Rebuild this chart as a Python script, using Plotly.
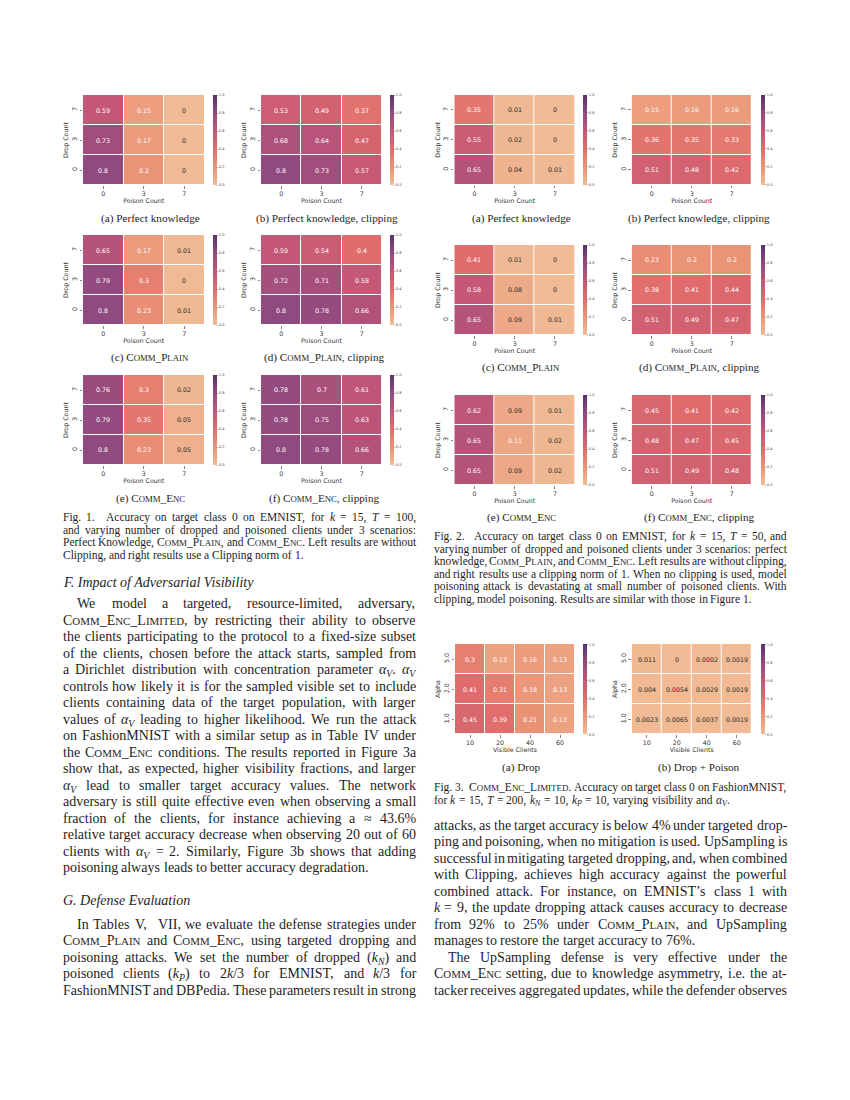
import re
import plotly.graph_objects as go

W, H = 850, 1100

# ---------------- data ----------------
poison_counts = ["0", "3", "7"]
drop_counts = ["0", "3", "7"]          # bottom -> top
visible_clients = ["10", "20", "40", "60"]
alphas = ["1.0", "2.0", "5.0"]         # bottom -> top

# rows = drop count 0,3,7 ; cols = poison count 0,3,7
fig1_perfect = [[0.8, 0.2, 0], [0.73, 0.17, 0], [0.59, 0.15, 0]]
fig1_perfect_clip = [[0.8, 0.73, 0.57], [0.68, 0.64, 0.47], [0.53, 0.49, 0.37]]
fig1_plain = [[0.8, 0.23, 0.01], [0.79, 0.3, 0], [0.65, 0.17, 0.01]]
fig1_plain_clip = [[0.8, 0.78, 0.66], [0.72, 0.71, 0.58], [0.59, 0.54, 0.4]]
fig1_enc = [[0.8, 0.23, 0.05], [0.79, 0.35, 0.05], [0.76, 0.3, 0.02]]
fig1_enc_clip = [[0.8, 0.78, 0.66], [0.78, 0.75, 0.63], [0.78, 0.7, 0.61]]

fig2_perfect = [[0.65, 0.04, 0.01], [0.55, 0.02, 0], [0.35, 0.01, 0]]
fig2_perfect_clip = [[0.51, 0.48, 0.42], [0.36, 0.35, 0.33], [0.15, 0.16, 0.16]]
fig2_plain = [[0.65, 0.09, 0.01], [0.58, 0.08, 0], [0.41, 0.01, 0]]
fig2_plain_clip = [[0.51, 0.49, 0.47], [0.38, 0.41, 0.44], [0.23, 0.2, 0.2]]
fig2_enc = [[0.65, 0.09, 0.02], [0.65, 0.11, 0.02], [0.62, 0.09, 0.01]]
fig2_enc_clip = [[0.51, 0.49, 0.48], [0.48, 0.47, 0.45], [0.45, 0.41, 0.42]]

# rows = alpha 1.0, 2.0, 5.0 ; cols = visible clients 10,20,40,60
fig3_drop = [[0.45, 0.39, 0.21, 0.13], [0.41, 0.31, 0.18, 0.13], [0.3, 0.13, 0.16, 0.13]]
fig3_drop_poison = [[0.0023, 0.0065, 0.0037, 0.0019], [0.004, 0.0054, 0.0029, 0.0019],
                    [0.011, 0, 0.0002, 0.0019]]

cbar_ticks = [0, 0.2, 0.4, 0.6, 0.8, 1.0]
cbar_labels = ["0.0", "0.2", "0.4", "0.6", "0.8", "1.0"]

# ---------------- styles ----------------
FLARE = [
    [0.0, "rgb(240,187,148)"],
    [0.2, "rgb(234,148,119)"],
    [0.4, "rgb(224,108,107)"],
    [0.6, "rgb(194,86,119)"],
    [0.8, "rgb(144,74,127)"],
    [1.0, "rgb(88,50,108)"],
]
SANS = "DejaVu Sans"
SERIF = "Liberation Serif"
TXT = "#1e1e1e"
AX_FS = 6.3

fig = go.Figure()
annotations = []
layout = dict(width=W, height=H, autosize=False, margin=dict(l=0, r=0, t=0, b=0, pad=0),
              paper_bgcolor="white", plot_bgcolor="white", showlegend=False,
              hovermode=False, font=dict(family=SANS, color=TXT))


def sc_cap(s):
    return "§" + s + "§"


panels = [
    # Fig. 1
    dict(z=fig1_perfect, x=poison_counts, y=drop_counts, box=(83, 204.5, 95, 185), cb=212.7,
         xt="Poison Count", yt="Drop Count", cap="(a) Perfect knowledge", cx=150, cy=217.7),
    dict(z=fig1_perfect_clip, x=poison_counts, y=drop_counts, box=(261, 382, 95, 185), cb=390,
         xt="Poison Count", yt="Drop Count", cap="(b) Perfect knowledge, clipping", cx=327, cy=217.7),
    dict(z=fig1_plain, x=poison_counts, y=drop_counts, box=(83, 204.5, 235, 325), cb=212.7,
         xt="Poison Count", yt="Drop Count", cap="(c) " + sc_cap("Comm_Plain"), cx=150, cy=356.7),
    dict(z=fig1_plain_clip, x=poison_counts, y=drop_counts, box=(261, 382, 235, 325), cb=390,
         xt="Poison Count", yt="Drop Count", cap="(d) " + sc_cap("Comm_Plain") + ", clipping", cx=324, cy=356.7),
    dict(z=fig1_enc, x=poison_counts, y=drop_counts, box=(83, 204.5, 375, 465), cb=212.7,
         xt="Poison Count", yt="Drop Count", cap="(e) " + sc_cap("Comm_Enc"), cx=150, cy=497.7),
    dict(z=fig1_enc_clip, x=poison_counts, y=drop_counts, box=(261, 382, 375, 465), cb=390,
         xt="Poison Count", yt="Drop Count", cap="(f) " + sc_cap("Comm_Enc") + ", clipping", cx=324, cy=497.7),
    # Fig. 2
    dict(z=fig2_perfect, x=poison_counts, y=drop_counts, box=(454.3, 575, 95, 184.5), cb=583.3,
         xt="Poison Count", yt="Drop Count", cap="(a) Perfect knowledge", cx=521, cy=217.7),
    dict(z=fig2_perfect_clip, x=poison_counts, y=drop_counts, box=(631.7, 751.7, 95, 184.5), cb=760.7,
         xt="Poison Count", yt="Drop Count", cap="(b) Perfect knowledge, clipping", cx=699, cy=217.7),
    dict(z=fig2_plain, x=poison_counts, y=drop_counts, box=(454.3, 575, 245, 335), cb=583.3,
         xt="Poison Count", yt="Drop Count", cap="(c) " + sc_cap("Comm_Plain"), cx=521, cy=366.7),
    dict(z=fig2_plain_clip, x=poison_counts, y=drop_counts, box=(631.7, 751.7, 245, 335), cb=760.7,
         xt="Poison Count", yt="Drop Count", cap="(d) " + sc_cap("Comm_Plain") + ", clipping", cx=699, cy=366.7),
    dict(z=fig2_enc, x=poison_counts, y=drop_counts, box=(454.3, 575, 395, 485), cb=583.3,
         xt="Poison Count", yt="Drop Count", cap="(e) " + sc_cap("Comm_Enc"), cx=521, cy=516.7),
    dict(z=fig2_enc_clip, x=poison_counts, y=drop_counts, box=(631.7, 751.7, 395, 485), cb=760.7,
         xt="Poison Count", yt="Drop Count", cap="(f) " + sc_cap("Comm_Enc") + ", clipping", cx=699, cy=516.7),
    # Fig. 3
    dict(z=fig3_drop, x=visible_clients, y=alphas, box=(455, 575, 644, 734.3), cb=583.3,
         xt="Visible Clients", yt="Alpha", cap="(a) Drop", cx=521, cy=767.3),
    dict(z=fig3_drop_poison, x=visible_clients, y=alphas, box=(631.7, 751.7, 644, 734.3), cb=760.7,
         xt="Visible Clients", yt="Alpha", cap="(b) Drop + Poison", cx=699, cy=767.3),
]

# ---------------- text width model (Times metrics) ----------------
REG = {}
for ch, w in zip("abcdefghijklmnopqrstuvwxyz",
                 [444, 500, 444, 500, 444, 333, 500, 500, 278, 278, 500, 278, 778, 500, 500, 500, 500, 333,
                  389, 278, 500, 500, 722, 500, 500, 444]):
    REG[ch] = w
for ch, w in zip("ABCDEFGHIJKLMNOPQRSTUVWXYZ",
                 [722, 667, 667, 722, 611, 556, 722, 722, 333, 389, 722, 611, 889, 722, 722, 556, 722, 667,
                  556, 611, 722, 722, 944, 722, 722, 611]):
    REG[ch] = w
ITA = {}
for ch, w in zip("abcdefghijklmnopqrstuvwxyz",
                 [500, 500, 444, 500, 444, 278, 500, 500, 278, 278, 444, 278, 722, 500, 500, 500, 500, 389,
                  389, 278, 500, 444, 667, 444, 444, 389]):
    ITA[ch] = w
for ch, w in zip("ABCDEFGHIJKLMNOPQRSTUVWXYZ",
                 [611, 611, 667, 722, 611, 611, 722, 722, 333, 444, 667, 556, 833, 667, 722, 611, 722, 611,
                  500, 556, 722, 611, 833, 611, 556, 556]):
    ITA[ch] = w
PUNCT = {" ": 250, ",": 250, ".": 250, ":": 278, ";": 278, "(": 333, ")": 333, "-": 333, "%": 833,
         "/": 278, "’": 333, "'": 180, "=": 564, "≈": 549, "_": 500, "+": 564, "α": 540, "\u00a0": 250}


def cw(ch, ital):
    if ch.isdigit():
        return 0.5
    if ch in PUNCT:
        return PUNCT[ch] / 1000.0
    t = ITA if ital else REG
    return t.get(ch, 500) / 1000.0


TAG = re.compile(r"(<i>|</i>|<sub>|</sub>|§)")
SC = 0.78


def render(word, fs):
    html, width = "", 0.0
    ital = sub = sc = False
    for tok in TAG.split(word):
        if tok == "":
            continue
        if tok == "<i>":
            ital = True; html += tok; continue
        if tok == "</i>":
            ital = False; html += tok; continue
        if tok == "<sub>":
            sub = True; html += tok; continue
        if tok == "</sub>":
            sub = False; html += tok; continue
        if tok == "§":
            sc = not sc; continue
        scale = 0.7 if sub else 1.0
        if sc:
            for run in re.findall(r"[a-z]+|[^a-z]+", tok):
                if "a" <= run[0] <= "z":
                    up = run.upper()
                    html += '<span style="font-size:%.2fpx">%s</span>' % (fs * SC, up)
                    width += fs * SC * sum(cw(c, ital) for c in up)
                else:
                    html += run
                    width += fs * sum(cw(c, ital) for c in run)
        else:
            html += tok
            width += fs * scale * sum(cw(c, ital) for c in tok)
    return html, width


def text_ann(html, x, yc, fs, anchor="left", italic=False):
    if italic:
        html = "<i>" + html + "</i>"
    annotations.append(dict(text=html, x=x / W, y=1 - (yc - 0.55 * fs) / H, xref="paper", yref="paper",
                            xanchor=anchor, yanchor="top", showarrow=False, borderpad=0, borderwidth=0,
                            font=dict(family=SERIF, size=fs, color=TXT)))


def add_line(text, x0, x1, yc, fs, justify, natural_gap=0.25):
    words = text.split(" ")
    parts = [render(w, fs) for w in words]
    total = sum(p[1] for p in parts)
    n = len(parts)
    gap = (x1 - x0 - total) / (n - 1) if (justify and n > 1) else natural_gap * fs
    x = x0
    for html, w in parts:
        if html:
            text_ann(html, x, yc, fs)
        x += w + gap


def add_par(lines, x0, x1, y0, step, fs, indent_rows=(), indent=14, natural_gap=0.25):
    for i, (t, j) in enumerate(lines):
        xs = x0 + (indent if i in indent_rows else 0)
        add_line(t, xs, x1, y0 + i * step, fs, j, natural_gap)


# ---------------- heatmaps ----------------
for i, p in enumerate(panels, start=1):
    x0, x1, y0, y1 = p["box"]
    xr = "x" if i == 1 else "x%d" % i
    yr = "y" if i == 1 else "y%d" % i
    nx, ny = len(p["x"]), len(p["y"])
    fig.add_trace(go.Heatmap(
        z=p["z"], x=list(range(nx)), y=list(range(ny)), xaxis=xr, yaxis=yr, colorscale=FLARE,
        zmin=0, zmax=1, xgap=1, ygap=1, hoverinfo="skip",
        colorbar=dict(x=p["cb"] / W, xanchor="left", xpad=0, y=1 - y1 / H, yanchor="bottom", ypad=0,
                      len=(y1 - y0) / H, lenmode="fraction", thickness=4, thicknessmode="pixels",
                      outlinewidth=0, tickvals=cbar_ticks, ticktext=cbar_labels, ticks="outside",
                      ticklen=1.5, tickwidth=0.5, tickcolor="#555",
                      tickfont=dict(family=SANS, size=3.6, color="#444")),
    ))
    axfont = dict(family=SANS, size=AX_FS, color="#333")
    layout["xaxis" if i == 1 else "xaxis%d" % i] = dict(
        domain=[x0 / W, x1 / W], anchor=yr, range=[-0.5, nx - 0.5], autorange=False,
        tickmode="array", tickvals=list(range(nx)), ticktext=p["x"], ticks="outside", ticklen=2.5,
        tickwidth=0.6, tickcolor="#333", tickfont=axfont, tickangle=0, showgrid=False, zeroline=False,
        showline=False, fixedrange=True, title=dict(text=p["xt"], font=axfont, standoff=1))
    layout["yaxis" if i == 1 else "yaxis%d" % i] = dict(
        domain=[1 - y1 / H, 1 - y0 / H], anchor=xr, range=[-0.5, ny - 0.5], autorange=False,
        tickmode="array", tickvals=list(range(ny)), ticktext=p["y"], ticks="outside", ticklen=2.5,
        tickwidth=0.6, tickcolor="#333", tickfont=axfont, tickangle=-90, showgrid=False,
        zeroline=False, showline=False, fixedrange=True, title=dict(text=p["yt"], font=axfont, standoff=1))
    for r in range(ny):
        for c in range(nx):
            v = p["z"][r][c]
            annotations.append(dict(x=c, y=r, xref=xr, yref=yr, text="{:.2g}".format(v), showarrow=False,
                                    font=dict(family=SANS, size=AX_FS,
                                              color="#ffffff" if v >= 0.1 else "#262626")))
    html, _ = render(p["cap"], 11.2)
    text_ann(html, p["cx"], p["cy"], 11.2, anchor="center")

# ---------------- text ----------------
LX0, LX1 = 62.7, 416.0
RX0, RX1 = 433.5, 787.0
BODY = 14.0
CAP = 11.5

fig1_caption = [
    ("Fig. 1.  Accuracy on target class 0 on EMNIST, for <i>k</i> = 15, <i>T</i> = 100,", True),
    ("and varying number of dropped and poisoned clients under 3 scenarios:", True),
    ("Perfect Knowledge, §Comm_Plain§, and §Comm_Enc§. Left results are without", True),
    ("Clipping, and right results use a Clipping norm of 1.", False),
]
fig2_caption = [
    ("Fig. 2.  Accuracy on target class 0 on EMNIST, for <i>k</i> = 15, <i>T</i> = 50, and", True),
    ("varying number of dropped and poisoned clients under 3 scenarios: perfect", True),
    ("knowledge, §Comm_Plain§, and §Comm_Enc§. Left results are without clipping,", True),
    ("and right results use a clipping norm of 1. When no clipping is used, model", True),
    ("poisoning attack is devastating at small number of poisoned clients. With", True),
    ("clipping, model poisoning. Results are similar with those in Figure 1.", False),
]
fig3_caption = [
    ("Fig. 3.  §Comm_Enc_Limited§. Accuracy on target class 0 on FashionMNIST,", True),
    ("for <i>k</i> = 15, <i>T</i> = 200, <i>k</i><sub><i>N</i></sub> = 10, <i>k</i><sub><i>P</i></sub> = 10, "
     "varying visibility and <i>α</i><sub><i>V</i></sub>.", False),
]
AV = "<i>α</i><sub><i>V</i></sub>"
left_par1 = [
    ("We model a targeted, resource-limited, adversary,", True),
    ("§Comm_Enc_Limited§, by restricting their ability to observe", True),
    ("the clients participating to the protocol to a fixed-size subset", True),
    ("of the clients, chosen before the attack starts, sampled from", True),
    ("a Dirichlet distribution with concentration parameter " + AV + ". " + AV, True),
    ("controls how likely it is for the sampled visible set to include", True),
    ("clients containing data of the target population, with larger", True),
    ("values of " + AV + " leading to higher likelihood. We run the attack", True),
    ("on FashionMNIST with a similar setup as in Table IV under", True),
    ("the §Comm_Enc§ conditions. The results reported in Figure 3a", True),
    ("show that, as expected, higher visibility fractions, and larger", True),
    (AV + " lead to smaller target accuracy values. The network", True),
    ("adversary is still quite effective even when observing a small", True),
    ("fraction of the clients, for instance achieving a ≈ 43.6%", True),
    ("relative target accuracy decrease when observing 20 out of 60", True),
    ("clients with " + AV + " = 2. Similarly, Figure 3b shows that adding", True),
    ("poisoning always leads to better accuracy degradation.", False),
]
left_par2 = [
    ("In Tables V,  VII, we evaluate the defense strategies under", True),
    ("§Comm_Plain§ and §Comm_Enc§, using targeted dropping and", True),
    ("poisoning attacks. We set the number of dropped (<i>k</i><sub><i>N</i></sub>) and", True),
    ("poisoned clients (<i>k</i><sub><i>P</i></sub>) to 2<i>k</i>/3 for EMNIST, and <i>k</i>/3 for", True),
    ("FashionMNIST and DBPedia. These parameters result in strong", True),
]
right_body = [
    ("attacks, as the target accuracy is below 4% under targeted drop-", True),
    ("ping and poisoning, when no mitigation is used. UpSampling is", True),
    ("successful in mitigating targeted dropping, and, when combined", True),
    ("with Clipping, achieves high accuracy against the powerful", True),
    ("combined attack. For instance, on EMNIST’s class 1 with", True),
    ("<i>k</i> = 9, the update dropping attack causes accuracy to decrease", True),
    ("from 92% to 25% under §Comm_Plain§, and UpSampling", True),
    ("manages to restore the target accuracy to 76%.", False),
    ("The UpSampling defense is very effective under the", True),
    ("§Comm_Enc§ setting, due to knowledge asymmetry, i.e. the at-", True),
    ("tacker receives aggregated updates, while the defender observes", True),
]

add_par(fig1_caption, LX0, LX1, 517.7, 12.45, CAP)
add_par(fig2_caption, RX0, RX1, 536.7, 12.45, CAP)
add_par(fig3_caption, RX0, RX1, 787.7, 12.45, CAP, natural_gap=0.3)

text_ann("F. Impact of Adversarial Visibility", LX0, 582.7, BODY, italic=True)
add_par(left_par1, LX0, LX1, 603.8, 16.5, BODY, indent_rows=(0,))
text_ann("G. Defense Evaluation", LX0, 901.0, BODY, italic=True)
add_par(left_par2, LX0, LX1, 924.3, 16.5, BODY, indent_rows=(0,))
add_par(right_body, RX0, RX1, 825.3, 16.5, BODY, indent_rows=(8,))

layout["annotations"] = annotations
fig.update_layout(**layout)

fig.write_html("out.html", config={"displayModeBar": False, "staticPlot": True},
               post_script="document.body.style.margin='0';document.body.style.overflow='hidden';")
